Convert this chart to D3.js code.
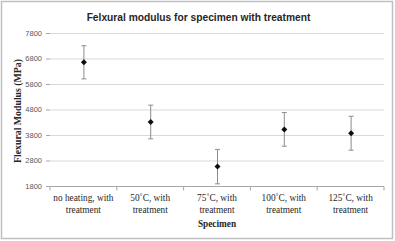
<!DOCTYPE html>
<html><head><meta charset="utf-8">
<script src="https://cdn.jsdelivr.net/npm/d3@7"></script>
<style>body{margin:0;background:#fff}svg{display:block}</style>
</head><body>
<script>
const categories = [["no heating, with","treatment"],["50˚C, with","treatment"],["75˚C, with","treatment"],["100˚C, with","treatment"],["125˚C, with","treatment"]];
const means = [6650, 4310, 2560, 4020, 3870];
const errors = [650, 660, 675, 660, 665];
const yTicks = [1800, 2800, 3800, 4800, 5800, 6800, 7800];

(function(){
const W = 395, H = 241;
const svg = d3.select("body").append("svg").attr("width", W).attr("height", H);
svg.append("rect").attr("x",1.5).attr("y",1.5).attr("width",W-4).attr("height",H-4)
  .attr("fill","#fff").attr("stroke","#bfbfbf").attr("stroke-width",1.5);

const pl = 50, pr = 384, pt = 33, pb = 186;
const x = d3.scaleBand().domain(d3.range(categories.length)).range([pl, pr]);
const y = d3.scaleLinear().domain([1800, 7800]).range([pb, pt]);

svg.append("g").selectAll("line").data(yTicks.slice(1)).join("line")
  .attr("x1", pl).attr("x2", pr).attr("y1", d=>y(d)+0.5).attr("y2", d=>y(d)+0.5)
  .attr("stroke","#d9d9d9").attr("stroke-width",1);

const ya = svg.append("g").attr("transform",`translate(${pl},0)`)
  .call(d3.axisLeft(y).tickValues(yTicks).tickSize(4).tickFormat(d3.format("d")));
ya.select(".domain").remove();
ya.selectAll("line").attr("stroke","#a6a6a6");
ya.selectAll("text").attr("font-family","Liberation Sans, Arial, sans-serif").attr("font-size",7.5).attr("fill","#595959").attr("dx",-1);

const xa = svg.append("g").attr("transform",`translate(0,${pb+0.5})`);
xa.append("line").attr("x1",pl).attr("x2",pr).attr("stroke","#a6a6a6");
const bounds = d3.range(categories.length+1).map(i => i < categories.length ? x(i) : x(i-1)+x.bandwidth());
xa.selectAll(".tk").data(bounds).join("line").attr("class","tk")
  .attr("x1",d=>d).attr("x2",d=>d).attr("y1",0).attr("y2",4).attr("stroke","#a6a6a6");
const labs = xa.selectAll(".lab").data(categories).join("text").attr("class","lab")
  .attr("text-anchor","middle").attr("font-family","Liberation Serif, Times New Roman, serif")
  .attr("font-size",9.3).attr("fill","#262626");
labs.each(function(d,i){
  const t = d3.select(this);
  d.forEach((s,j)=> t.append("tspan").attr("x", x(i)+x.bandwidth()/2).attr("y", 14.5 + j*12).text(s));
});

const g = svg.append("g");
means.forEach((m,i)=>{
  const cx = x(i)+x.bandwidth()/2 + 0.5;
  g.append("line").attr("x1",cx).attr("x2",cx).attr("y1",y(m+errors[i])).attr("y2",y(m-errors[i])).attr("stroke","#8c8c8c");
  [m+errors[i], m-errors[i]].forEach(v=>g.append("line").attr("x1",cx-2.5).attr("x2",cx+2.5).attr("y1",y(v)).attr("y2",y(v)).attr("stroke","#8c8c8c"));
});
g.selectAll("path").data(means).join("path")
  .attr("d", d3.symbol(d3.symbolSquare, 18))
  .attr("transform",(d,i)=>`translate(${x(i)+x.bandwidth()/2+0.5},${y(d)}) rotate(45)`)
  .attr("fill","#0d0d1a");

const title = svg.append("text").attr("x",198.5).attr("y",20.5).attr("text-anchor","middle")
  .attr("font-family","Liberation Sans, Arial, sans-serif").attr("font-weight","bold").attr("font-size",10.5).attr("fill","#262626")
  .text("Felxural modulus for specimen with treatment");
const tw = title.node().getComputedTextLength();
title.attr("font-size", 10.5 * 224 / tw);
svg.append("text").attr("transform","translate(21,111) rotate(-90)").attr("text-anchor","middle")
  .attr("font-family","Liberation Serif, Times New Roman, serif").attr("font-weight","bold").attr("font-size",9.8).attr("fill","#262626")
  .text("Flexural Modulus (MPa)");
svg.append("text").attr("x",217).attr("y",226.5).attr("text-anchor","middle")
  .attr("font-family","Liberation Serif, Times New Roman, serif").attr("font-weight","bold").attr("font-size",9.3).attr("fill","#262626")
  .text("Specimen");
})();
</script>
</body></html>
